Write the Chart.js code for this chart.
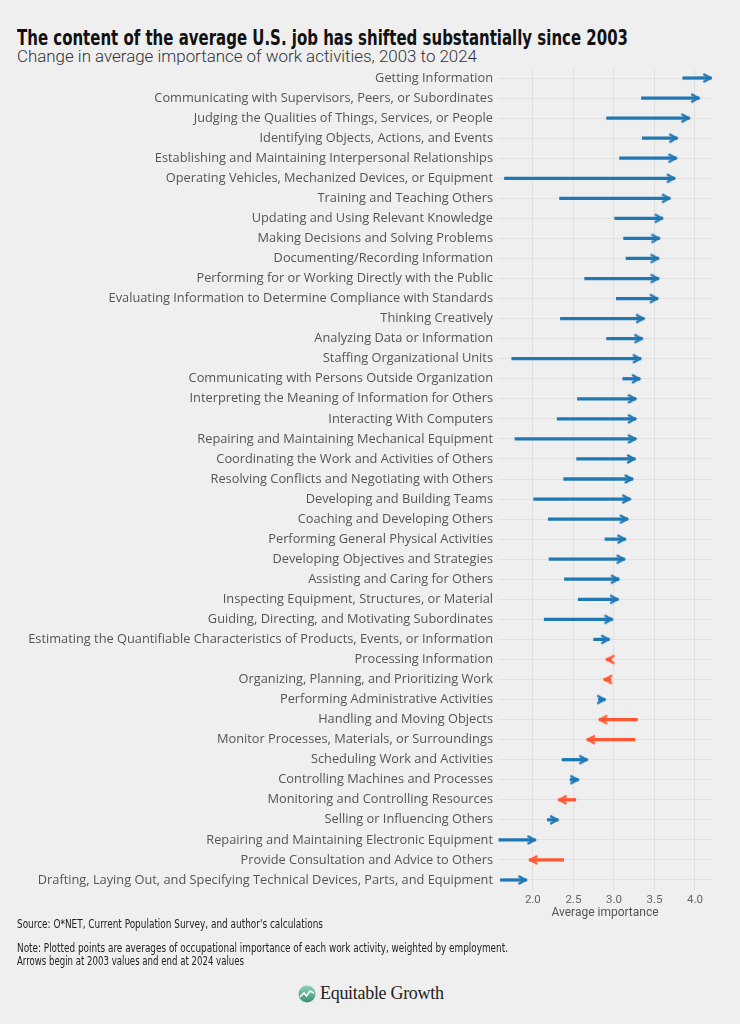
<!DOCTYPE html>
<html>
<head>
<meta charset="utf-8">
<script src="https://cdn.jsdelivr.net/npm/chart.js@4"></script>
<style>
  html, body { margin: 0; padding: 0; background: #efefef; }
  body { width: 740px; height: 1024px; position: relative; overflow: hidden; }
  #wrap { position: absolute; left: 0; top: 0; width: 740px; height: 940px; }
  .txt { position: absolute; left: 17px; white-space: nowrap; transform-origin: left center; }
  #title { top: 26px; font: bold 21px "DejaVu Sans", sans-serif; color: #111; }
  #subtitle { top: 46px; font: 300 17px Roboto, "Open Sans", sans-serif; color: #333; }
  .small { font: 12.5px "DejaVu Sans Condensed", "DejaVu Sans", sans-serif; color: #222; }
  #source { top: 916px; }
  #note1 { top: 940px; }
  #note2 { top: 953px; }
  #logo { position: absolute; left: 298px; top: 983px; display: flex; align-items: center; }
  #logo span { font: 18px "Liberation Serif", "DejaVu Serif", serif; color: #222; margin-left: 4px; letter-spacing: -0.3px; }
</style>
</head>
<body>
<div id="title" class="txt">The content of the average U.S. job has shifted substantially since 2003</div>
<div id="subtitle" class="txt">Change in average importance of work activities, 2003 to 2024</div>
<div id="wrap"><canvas id="chart" width="740" height="940"></canvas></div>
<div id="source" class="txt small">Source: O*NET, Current Population Survey, and author's calculations</div>
<div id="note1" class="txt small">Note: Plotted points are averages of occupational importance of each work activity, weighted by employment.</div>
<div id="note2" class="txt small">Arrows begin at 2003 values and end at 2024 values</div>
<div id="logo">
  <svg width="18" height="18" viewBox="0 0 18 18">
    <defs>
      <linearGradient id="g" x1="0" y1="0" x2="0" y2="1">
        <stop offset="0" stop-color="#8fd0b8"/>
        <stop offset="1" stop-color="#3f8f76"/>
      </linearGradient>
    </defs>
    <circle cx="9" cy="9" r="8.5" fill="url(#g)"/>
    <polyline points="2,12 6,8 8.5,11 12,6 16,8" fill="none" stroke="#fff" stroke-width="1.6"/>
  </svg>
  <span>Equitable Growth</span>
</div>

<script>
/* ── Data ── */
const activities = [
  'Getting Information',
  'Communicating with Supervisors, Peers, or Subordinates',
  'Judging the Qualities of Things, Services, or People',
  'Identifying Objects, Actions, and Events',
  'Establishing and Maintaining Interpersonal Relationships',
  'Operating Vehicles, Mechanized Devices, or Equipment',
  'Training and Teaching Others',
  'Updating and Using Relevant Knowledge',
  'Making Decisions and Solving Problems',
  'Documenting/Recording Information',
  'Performing for or Working Directly with the Public',
  'Evaluating Information to Determine Compliance with Standards',
  'Thinking Creatively',
  'Analyzing Data or Information',
  'Staffing Organizational Units',
  'Communicating with Persons Outside Organization',
  'Interpreting the Meaning of Information for Others',
  'Interacting With Computers',
  'Repairing and Maintaining Mechanical Equipment',
  'Coordinating the Work and Activities of Others',
  'Resolving Conflicts and Negotiating with Others',
  'Developing and Building Teams',
  'Coaching and Developing Others',
  'Performing General Physical Activities',
  'Developing Objectives and Strategies',
  'Assisting and Caring for Others',
  'Inspecting Equipment, Structures, or Material',
  'Guiding, Directing, and Motivating Subordinates',
  'Estimating the Quantifiable Characteristics of Products, Events, or Information',
  'Processing Information',
  'Organizing, Planning, and Prioritizing Work',
  'Performing Administrative Activities',
  'Handling and Moving Objects',
  'Monitor Processes, Materials, or Surroundings',
  'Scheduling Work and Activities',
  'Controlling Machines and Processes',
  'Monitoring and Controlling Resources',
  'Selling or Influencing Others',
  'Repairing and Maintaining Electronic Equipment',
  'Provide Consultation and Advice to Others',
  'Drafting, Laying Out, and Specifying Technical Devices, Parts, and Equipment'
];

const values2003 = [
  3.85, 3.34, 2.91, 3.35, 3.07, 1.65, 2.33, 3.01, 3.12, 3.15,
  2.64, 3.03, 2.34, 2.91, 1.74, 3.11, 2.55, 2.30, 1.78, 2.54,
  2.38, 2.01, 2.19, 2.89, 2.20, 2.39, 2.56, 2.14, 2.75, 2.97,
  2.96, 2.81, 3.29, 3.26, 2.36, 2.46, 2.53, 2.18, 1.58, 2.38,
  1.60
];

const values2024 = [
  4.20, 4.05, 3.93, 3.78, 3.77, 3.75, 3.69, 3.60, 3.56, 3.55,
  3.55, 3.54, 3.37, 3.35, 3.33, 3.32, 3.27, 3.27, 3.27, 3.26,
  3.23, 3.20, 3.17, 3.14, 3.13, 3.06, 3.05, 2.98, 2.94, 2.91,
  2.88, 2.89, 2.82, 2.67, 2.67, 2.56, 2.32, 2.31, 2.03, 1.96,
  1.92
];

const xTicks = [2.0, 2.5, 3.0, 3.5, 4.0];

const BLUE = '#1f77b4';
const ORANGE = '#ff5733';
const colorFor = i => values2024[i] >= values2003[i] ? BLUE : ORANGE;

/* ── Stretch the HTML text lines to the reference widths ── */
function fitX(id, width) {
  const el = document.getElementById(id);
  const w = el.getBoundingClientRect().width;
  el.style.transform = 'scaleX(' + (width / w) + ')';
}
fitX('title', 611);
fitX('subtitle', 460);
fitX('source', 306);
fitX('note1', 491);
fitX('note2', 227);

/* ── Arrowheads (open chevrons, tip at the image centre) ── */
function makeHead(color, dir) {
  const c = document.createElement('canvas');
  c.width = 24; c.height = 14;
  const g = c.getContext('2d');
  const tip = 12 - dir * 0.8;
  g.strokeStyle = color;
  g.lineWidth = 2.4;
  g.lineJoin = 'miter';
  g.beginPath();
  g.moveTo(tip - dir * 7, 7 - 4);
  g.lineTo(tip, 7);
  g.lineTo(tip - dir * 7, 7 + 4);
  g.stroke();
  return c;
}
const headRight = makeHead(BLUE, 1);
const headLeft = makeHead(ORANGE, -1);

/* ── Chart ── */
new Chart(document.getElementById('chart'), {
  type: 'bar',
  data: {
    labels: activities,
    datasets: [
      {
        label: 'Change',
        data: activities.map((a, i) => [values2003[i], values2024[i]]),
        backgroundColor: activities.map((a, i) => colorFor(i)),
        barThickness: 2.6,
        borderSkipped: false,
        order: 2
      },
      {
        type: 'line',
        label: 'Heads',
        data: activities.map((a, i) => ({ x: values2024[i], y: a })),
        showLine: false,
        pointStyle: ctx => values2024[ctx.dataIndex] >= values2003[ctx.dataIndex] ? headRight : headLeft,
        pointRadius: 7,
        order: 1
      }
    ]
  },
  options: {
    indexAxis: 'y',
    responsive: false,
    animation: false,
    layout: { padding: { top: 68, right: 28, bottom: 16, left: 0 } },
    plugins: {
      legend: { display: false },
      tooltip: { enabled: false }
    },
    scales: {
      x: {
        type: 'linear',
        min: 1.57,
        max: 4.21,
        afterBuildTicks: s => { s.ticks = xTicks.map(v => ({ value: v })); },
        afterFit: s => { s.height = 34; },
        border: { display: false },
        grid: { color: '#e0e0e0', lineWidth: 1, drawTicks: false },
        ticks: {
          color: '#666',
          font: { family: 'Roboto, sans-serif', size: 11.5 },
          padding: 3,
          callback: v => Number(v).toFixed(1)
        },
        title: {
          display: true,
          text: 'Average importance',
          color: '#555',
          font: { family: 'Roboto, sans-serif', size: 12 },
          padding: { top: 2, bottom: 4 }
        }
      },
      y: {
        type: 'category',
        afterFit: s => { s.width = 498; },
        border: { display: false },
        grid: { color: '#e0e0e0', lineWidth: 1, drawTicks: false, offset: false },
        ticks: {
          color: '#555',
          font: { family: '"Open Sans", Roboto, sans-serif', size: 12.8 },
          padding: 5,
          autoSkip: false
        }
      }
    }
  }
});
</script>
</body>
</html>
